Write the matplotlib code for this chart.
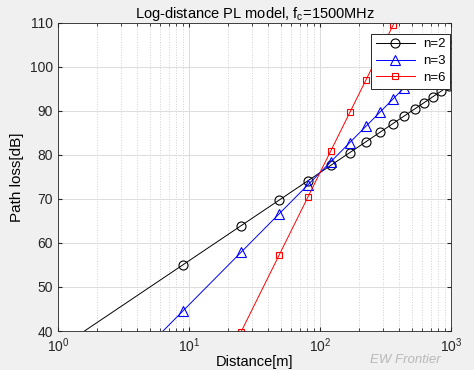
import numpy as np
import matplotlib.pyplot as plt

# distance points [m] (markers at (1:2:31).^2)
distance = [1, 9, 25, 49, 81, 121, 169, 225, 289, 361, 441, 529, 625, 729, 841, 961]

# path loss [dB]
pl_n2 = [35.96, 55.04, 63.92, 69.76, 74.13, 77.62, 80.52, 83.00, 85.18, 87.11,
         88.85, 90.43, 91.88, 93.21, 94.46, 95.61]
pl_n3 = [15.96, 44.58, 57.90, 66.67, 73.21, 78.44, 82.80, 86.53, 89.79, 92.69,
         95.29, 97.67, 99.84, 101.84, 103.70, 105.44]
pl_n6 = [-44.04, 13.21, 39.84, 57.37, 70.47, 80.93, 89.64, 97.09, 103.61, 109.41,
         114.62, 119.37, 123.71, 127.72, 131.45, 134.92]

labels = ['n=2', 'n=3', 'n=6']

plt.rcParams['font.family'] = ['Liberation Sans', 'DejaVu Sans']

fig = plt.figure(figsize=(4.74, 3.7), dpi=100, facecolor='#f0f0f0')
ax = fig.add_axes([0.1224, 0.1054, 0.8291, 0.8332])
ax.set_facecolor('white')

ax.semilogx(distance, pl_n2, 'k-o', mfc='none', ms=6.5, lw=0.7, mew=0.8, label=labels[0])
ax.semilogx(distance, pl_n3, 'b-^', mfc='none', ms=7, lw=0.7, mew=0.8, label=labels[1])
ax.semilogx(distance, pl_n6, 'r-s', mfc='none', ms=5, lw=0.7, mew=0.8, label=labels[2])

ax.set_xlim(1, 1000)
ax.set_ylim(40, 110)
ax.set_yticks(range(40, 111, 10))

ax.grid(True, which='major', color='#dcdcdc', lw=0.7)
ax.grid(True, which='minor', axis='x', color='#d0d0d0', ls=':', lw=0.7)
ax.set_axisbelow(True)

for s in ax.spines.values():
    s.set_color('#262626')
    s.set_linewidth(0.6)
ax.tick_params(which='both', direction='in', top=True, right=True, colors='#262626',
               labelsize=10, length=3)
ax.tick_params(which='minor', length=2)
ax.tick_params(axis='x', pad=4)

ax.set_title('Log-distance PL model, f$_\\mathregular{c}$=1500MHz', fontsize=10.5, pad=3)
ax.set_xlabel('Distance[m]', fontsize=10.5, labelpad=0)
ax.set_ylabel('Path loss[dB]', fontsize=11)

leg = ax.legend(loc='upper right', bbox_to_anchor=(0.998, 0.965), borderaxespad=0,
                fontsize=9.5, fancybox=False, framealpha=1, edgecolor='#262626',
                handlelength=3.0, handletextpad=0.6, borderpad=0.35, labelspacing=0.35)
leg.get_frame().set_linewidth(0.7)

fig.text(0.93, 0.012, 'EW Frontier', ha='right', va='bottom', fontsize=9.5,
         color='#b8b8b8', style='italic')

fig.savefig('out.png', dpi=100, facecolor=fig.get_facecolor())
